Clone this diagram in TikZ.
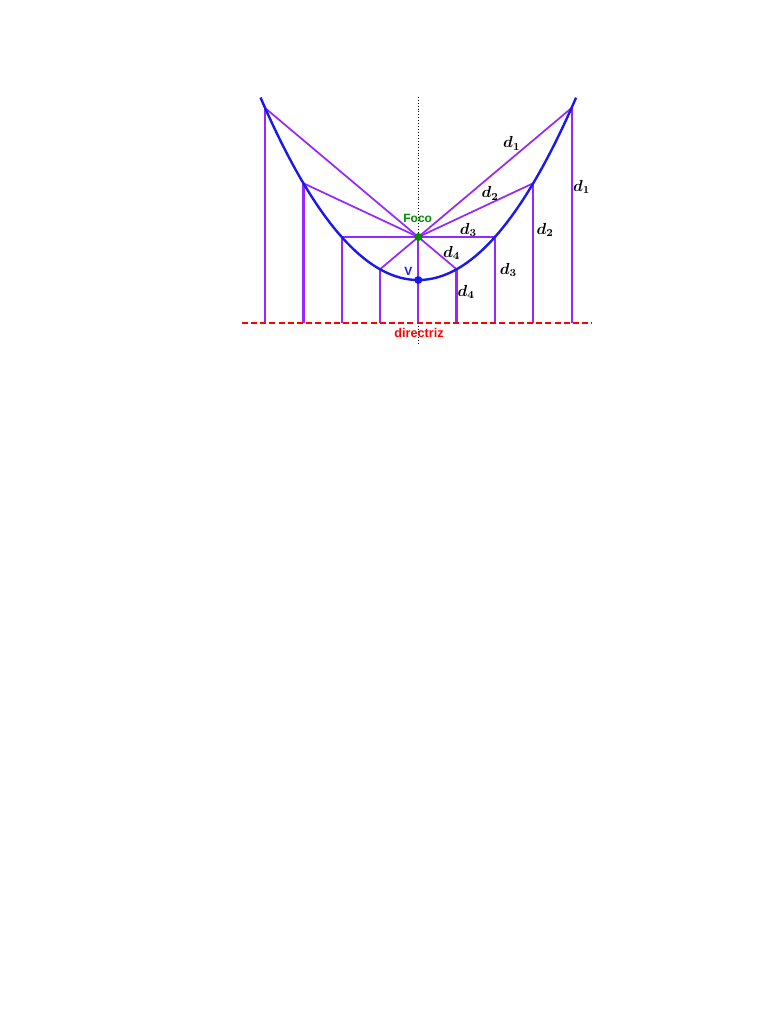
\documentclass[tikz,border=0pt]{standalone}
\usepackage{amsmath,bm}
\usepackage{fontspec}
\newfontfamily\lab{Liberation Sans}
\definecolor{purp}{RGB}{150,40,255}
\definecolor{parblue}{RGB}{25,25,235}
\definecolor{focgreen}{RGB}{0,140,0}
\definecolor{dirred}{RGB}{255,0,0}
\begin{document}
\begin{tikzpicture}[x=28.725pt,y=32.25pt,
  seg/.style={purp,line width=1.3pt},
  segthin/.style={purp,line width=1.5pt},
  segthick/.style={purp,line width=1.7pt},
  dlab/.style={font=\fontsize{11.5}{13}\selectfont,inner sep=0pt},
  dotpt/.style={circle,inner sep=0pt,minimum size=6pt}]
\useasboundingbox (-10.922,-17.302) rectangle (9.131,6.512);
% axis
\coordinate (axtop) at (0,4.26);
\coordinate (axbot) at (0,-1.5);
\draw[black,line width=0.6pt,dash pattern=on 0.6pt off 1.6pt] (axtop) -- (axbot);
% points
\coordinate (F) at (0,1);
\coordinate (V0) at (0,0);
\foreach \n/\x in {L1/-4,L2/-3,L3/-2,L4/-1,R1/4,R2/3,R3/2,R4/1}{
  \coordinate (\n) at (\x,{\x*\x/4});
  \coordinate (\n f) at (\x,-1);
}
\coordinate (Cf) at (0,-1);
% focus lines
\draw[seg] (L1) -- (F);
\draw[seg] (R1) -- (F);
\draw[seg] (L2) -- (F);
\draw[seg] (R2) -- (F);
\draw[segthick] (L3) -- (F) -- (R3);
\draw[seg] (L4) -- (F);
\draw[seg] (R4) -- (F);
% verticals
\draw[segthick] (L1) -- (L1f);
\draw[segthick] (L2) -- (L2f);
\draw[segthin] (L3) -- (L3f);
\draw[segthick] (L4) -- (L4f);
\draw[segthick] (F) -- (Cf);
\draw[segthick] (R4) -- (R4f);
\draw[segthick] (R3) -- (R3f);
\draw[segthin] (R2) -- (R2f);
\draw[segthin] (R1) -- (R1f);
% parabola
\draw[parblue,line width=1.8pt,domain=-4.12:4.12,samples=120,smooth] plot (\x,{\x*\x/4});
% directrix
\coordinate (dl) at (-4.61,-1);
\coordinate (dr) at (4.53,-1);
\draw[dirred,line width=1.4pt,dash pattern=on 4.5pt off 2.4pt] (dl) -- (dr);
% dots
\node[dotpt,fill=focgreen] (Fd) at (F) {};
\node[dotpt,fill=parblue] (Vd) at (V0) {};
% labels
\node[text=focgreen,font=\lab\bfseries\fontsize{9}{10}\selectfont,inner sep=0pt] (foco) at (-0.016,1.435) {Foco};
\node[text=parblue,font=\lab\bfseries\fontsize{9}{10}\selectfont,inner sep=0pt] (vlab) at (-0.261,0.193) {V};
\node[text=dirred,font=\lab\bfseries\fontsize{9.5}{11}\selectfont,inner sep=0pt] (dirlab) at (0.02,-1.226) {directriz};
\node[dlab] (d1s) at (2.439,3.179) {$\bm{d_1}$};
\node[dlab] (d1v) at (4.266,2.170) {$\bm{d_1}$};
\node[dlab] (d2s) at (1.872,2.016) {$\bm{d_2}$};
\node[dlab] (d2v) at (3.308,1.163) {$\bm{d_2}$};
\node[dlab] (d3h) at (1.305,1.163) {$\bm{d_3}$};
\node[dlab] (d3v) at (2.35,0.233) {$\bm{d_3}$};
\node[dlab] (d4s) at (0.872,0.635) {$\bm{d_4}$};
\node[dlab] (d4v) at (1.245,-0.272) {$\bm{d_4}$};
\end{tikzpicture}
\end{document}
